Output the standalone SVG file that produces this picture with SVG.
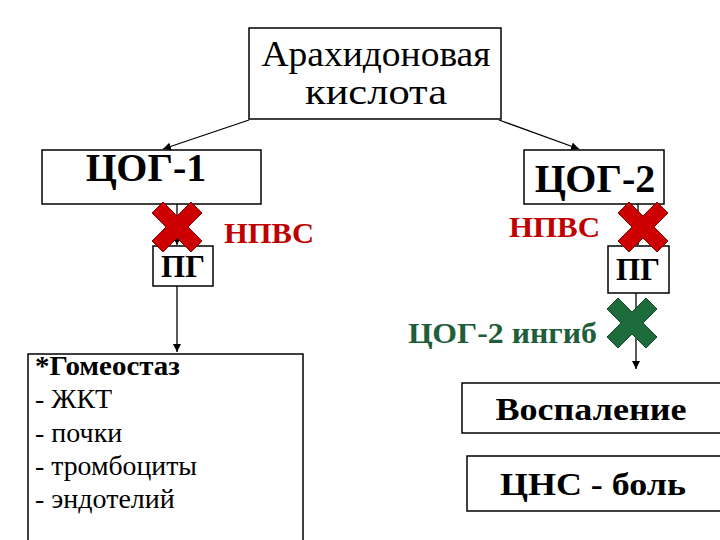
<svg xmlns="http://www.w3.org/2000/svg" width="720" height="540" viewBox="0 0 720 540">
<style>
.box{fill:#fff;stroke:#000;stroke-width:1.5}
.ln{stroke:#000;stroke-width:1.3;fill:none}
</style>
<defs>
<marker id="ah" markerWidth="10" markerHeight="10" refX="8" refY="4" orient="auto" markerUnits="userSpaceOnUse">
<path d="M0,0 L8,4 L0,8 Z" fill="#000"/>
</marker>
<polygon id="x" points="-25,-14 -14,-25 0,-11 14,-25 25,-14 11,0 25,14 14,25 0,11 -14,25 -25,14 -11,0"/>
</defs>
<rect width="720" height="540" fill="#fff"/>
<g id="connectors">
<line class="ln" x1="249" y1="120" x2="163" y2="149" marker-end="url(#ah)"/>
<line class="ln" x1="499" y1="120" x2="579" y2="149" marker-end="url(#ah)"/>
<line class="ln" x1="177" y1="204" x2="177" y2="245" marker-end="url(#ah)"/>
<line class="ln" x1="638" y1="204" x2="638" y2="245" marker-end="url(#ah)"/>
<line class="ln" x1="177" y1="286" x2="177" y2="352" marker-end="url(#ah)"/>
<line class="ln" x1="636" y1="293" x2="636" y2="369" marker-end="url(#ah)"/>
</g>
<g id="arachidonic">
<rect class="box" x="249" y="28" width="252" height="91"/>
<text x="376" y="66" font-family="Liberation Serif" font-size="35" text-anchor="middle" fill="#000" textLength="229" lengthAdjust="spacingAndGlyphs">Арахидоновая</text>
<text x="376" y="104" font-family="Liberation Serif" font-size="35" text-anchor="middle" fill="#000" textLength="142" lengthAdjust="spacingAndGlyphs">кислота</text>
</g>
<g id="cox1">
<rect class="box" x="42" y="150" width="219" height="54"/>
<text x="146" y="181" font-family="Liberation Serif" font-weight="bold" font-size="40" text-anchor="middle" fill="#000">ЦОГ-1</text>
</g>
<g id="cox2">
<rect class="box" x="524" y="150" width="140" height="54"/>
<text x="595" y="192" font-family="Liberation Serif" font-weight="bold" font-size="40" text-anchor="middle" fill="#000">ЦОГ-2</text>
</g>
<g id="pg1">
<rect class="box" x="153" y="246" width="60" height="40"/>
<text x="183" y="277" font-family="Liberation Serif" font-weight="bold" font-size="31" text-anchor="middle" fill="#000">ПГ</text>
</g>
<g id="pg2">
<rect class="box" x="608" y="246" width="61" height="47"/>
<text x="638" y="280" font-family="Liberation Serif" font-weight="bold" font-size="31" text-anchor="middle" fill="#000">ПГ</text>
</g>
<g id="nsaid1">
<text x="224" y="243" font-family="Liberation Serif" font-weight="bold" font-size="30" fill="#C00000" textLength="90" lengthAdjust="spacingAndGlyphs">НПВС</text>
<use href="#x" x="177" y="227" fill="#CC0000" stroke="#8B0000" stroke-width="1"/>
</g>
<g id="nsaid2">
<text x="509" y="237" font-family="Liberation Serif" font-weight="bold" font-size="30" fill="#C00000" textLength="91" lengthAdjust="spacingAndGlyphs">НПВС</text>
<use href="#x" x="643" y="227" fill="#CC0000" stroke="#8B0000" stroke-width="1"/>
</g>
<g id="cox2inh">
<text x="408" y="343" font-family="Liberation Serif" font-weight="bold" font-size="30" fill="#1E5E3A" textLength="189" lengthAdjust="spacingAndGlyphs">ЦОГ-2 ингиб</text>
<use href="#x" x="632" y="323" fill="#1E6B3C" stroke="#154A2A" stroke-width="1"/>
</g>
<g id="homeostasis">
<rect class="box" x="28" y="354" width="275" height="200"/>
<text x="35" y="375" font-family="Liberation Serif" font-weight="bold" font-size="28" fill="#000" textLength="145" lengthAdjust="spacingAndGlyphs">*Гомеостаз</text>
<text x="35" y="408" font-family="Liberation Serif" font-size="28" fill="#000">- ЖКТ</text>
<text x="35" y="442" font-family="Liberation Serif" font-size="28" fill="#000">- почки</text>
<text x="35" y="475" font-family="Liberation Serif" font-size="28" fill="#000" textLength="162" lengthAdjust="spacingAndGlyphs">- тромбоциты</text>
<text x="35" y="508" font-family="Liberation Serif" font-size="28" fill="#000">- эндотелий</text>
</g>
<g id="inflammation">
<rect class="box" x="462" y="383" width="262" height="50"/>
<text x="591" y="420" font-family="Liberation Serif" font-weight="bold" font-size="32" text-anchor="middle" fill="#000" textLength="191" lengthAdjust="spacingAndGlyphs">Воспаление</text>
</g>
<g id="cns">
<rect class="box" x="467" y="456" width="257" height="55"/>
<text x="593" y="495" font-family="Liberation Serif" font-weight="bold" font-size="32" text-anchor="middle" fill="#000" textLength="186" lengthAdjust="spacingAndGlyphs">ЦНС - боль</text>
</g>
</svg>
